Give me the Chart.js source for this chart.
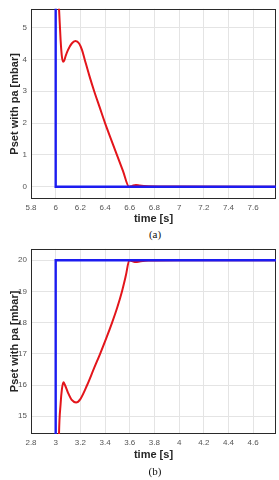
<!DOCTYPE html>
<html>
<head>
<meta charset="utf-8">
<script src="https://cdn.jsdelivr.net/npm/chart.js@4/dist/chart.umd.min.js"></script>
<style>
  html, body { margin: 0; padding: 0; background: #fff; color: #000; }
  body { width: 279px; height: 480px; position: relative; overflow: hidden; }
  .box { position: absolute; left: 0; width: 279px; height: 226px; }
  .cap { position: absolute; left: 0; width: 310px; height: 14px; line-height: 14px;
         text-align: center; background: transparent;
         font-family: "Liberation Serif", serif; font-size: 11px; color: #000000; }
</style>
</head>
<body>
<div class="box" style="top:0"><canvas id="ca" width="279" height="226"></canvas></div>
<div class="cap" style="top:227px"><span style="color:#111">(a)</span></div>
<div class="box" style="top:240px"><canvas id="cb" width="279" height="226"></canvas></div>
<div class="cap" style="top:464px"><span style="color:#111">(b)</span></div>
<script>
// ----- data (a) -----
const xTicksA = [5.8, 6.0, 6.2, 6.4, 6.6, 6.8, 7.0, 7.2, 7.4, 7.6];
const yTicksA = [0, 1, 2, 3, 4, 5];
const blueTA = [6.0, 6.0, 7.8];
const blueVA = [20, 0, 0];
const redTA = [5.8, 6.0, 6.01, 6.027, 6.04, 6.05, 6.06, 6.07, 6.08, 6.1, 6.13, 6.16, 6.19, 6.213, 6.235, 6.272, 6.312, 6.356, 6.40, 6.448, 6.496, 6.545, 6.595, 6.62, 6.65, 6.68, 6.75, 7.0, 7.8];
const redVA = [20, 20, 8, 5.6, 4.6, 4.1, 3.93, 3.97, 4.1, 4.3, 4.5, 4.58, 4.5, 4.3, 4.0, 3.5, 3.0, 2.5, 2.0, 1.5, 1.0, 0.5, 0.0, 0.03, 0.06, 0.04, 0.02, 0.01, 0.0];

// ----- data (b) -----
const xTicksB = [2.8, 3.0, 3.2, 3.4, 3.6, 3.8, 4.0, 4.2, 4.4, 4.6];
const yTicksB = [15, 16, 17, 18, 19, 20];
const blueTB = [3.0, 3.0, 4.8];
const blueVB = [0, 20, 20];
const redTB = [2.8, 3.0, 3.01, 3.027, 3.04, 3.05, 3.063, 3.075, 3.1, 3.13, 3.165, 3.2, 3.255, 3.307, 3.36, 3.41, 3.457, 3.5, 3.537, 3.568, 3.597, 3.62, 3.65, 3.68, 3.75, 4.0, 4.8];
const redVB = [0, 0, 10, 14.43, 15.4, 15.85, 16.09, 16.0, 15.75, 15.52, 15.44, 15.55, 16.0, 16.5, 17.0, 17.5, 18.0, 18.5, 19.0, 19.5, 20.0, 19.97, 19.94, 19.96, 19.99, 20.0, 20.0];

const yTitle = 'Pset with pa [mbar]';
const xTitle = 'time [s]';

const zip = (t, v) => t.map((x, i) => ({ x: x, y: v[i] }));
const fmt = v => String(Number(v.toFixed(1)));

const framePlugin = {
  id: 'frame',
  beforeDatasetsDraw(chart) {
    const { ctx, chartArea: a } = chart;
    ctx.save();
    ctx.strokeStyle = '#2a2a2a';
    ctx.lineWidth = 1;
    ctx.strokeRect(Math.round(a.left) + 0.5, Math.round(a.top) + 0.5,
                   Math.round(a.width) - 1, Math.round(a.height) - 1);
    ctx.restore();
  }
};

function makeChart(id, cfg) {
  const tickFont = { family: 'Liberation Sans', size: 8 };
  const titleFont = { family: 'Liberation Sans', size: 11, weight: 'bold' };
  return new Chart(document.getElementById(id), {
    type: 'line',
    data: {
      datasets: [
        { data: zip(cfg.blueT, cfg.blueV), borderColor: '#1c1cf0', borderWidth: 2.4,
          pointRadius: 0, tension: 0, fill: false },
        { data: zip(cfg.redT, cfg.redV), borderColor: '#e3151b', borderWidth: 2,
          pointRadius: 0, cubicInterpolationMode: 'monotone', fill: false }
      ]
    },
    options: {
      responsive: false,
      animation: false,
      events: [],
      layout: { padding: { top: cfg.padTop, right: 3, left: 0, bottom: 0 } },
      plugins: { legend: { display: false }, tooltip: { enabled: false } },
      scales: {
        x: {
          type: 'linear', min: cfg.xMin, max: cfg.xMax,
          afterBuildTicks: s => { s.ticks = cfg.xTicks.map(v => ({ value: v })); },
          afterFit: s => { s.height = cfg.xH; },
          grid: { color: '#e4e4e4', lineWidth: 1, drawTicks: false },
          border: { display: false },
          ticks: { font: tickFont, color: '#555', padding: 4, maxRotation: 0,
                   autoSkip: false, callback: v => fmt(v) },
          title: { display: true, text: xTitle, font: titleFont, color: '#262626',
                   padding: { top: 0, bottom: cfg.xTitlePad } }
        },
        y: {
          type: 'linear', min: cfg.yMin, max: cfg.yMax,
          afterBuildTicks: s => { s.ticks = cfg.yTicks.map(v => ({ value: v })); },
          afterFit: s => { s.width = 31; },
          grid: { color: '#e4e4e4', lineWidth: 1, drawTicks: false },
          border: { display: false },
          ticks: { font: tickFont, color: '#555', padding: 4, callback: v => fmt(v) },
          title: { display: true, text: yTitle, font: titleFont, color: '#262626',
                   padding: { top: 8, bottom: 0 } }
        }
      }
    },
    plugins: [framePlugin]
  });
}

makeChart('ca', {
  blueT: blueTA, blueV: blueVA, redT: redTA, redV: redVA,
  xTicks: xTicksA, yTicks: yTicksA,
  xMin: 5.8, xMax: 7.785, yMin: -0.383, yMax: 5.59,
  padTop: 7, xH: 27, xTitlePad: 0
});
makeChart('cb', {
  blueT: blueTB, blueV: blueVB, redT: redTB, redV: redVB,
  xTicks: xTicksB, yTicks: yTicksB,
  xMin: 2.8, xMax: 4.785, yMin: 14.43, yMax: 20.366,
  padTop: 4, xH: 32, xTitlePad: 4
});
</script>
</body>
</html>
